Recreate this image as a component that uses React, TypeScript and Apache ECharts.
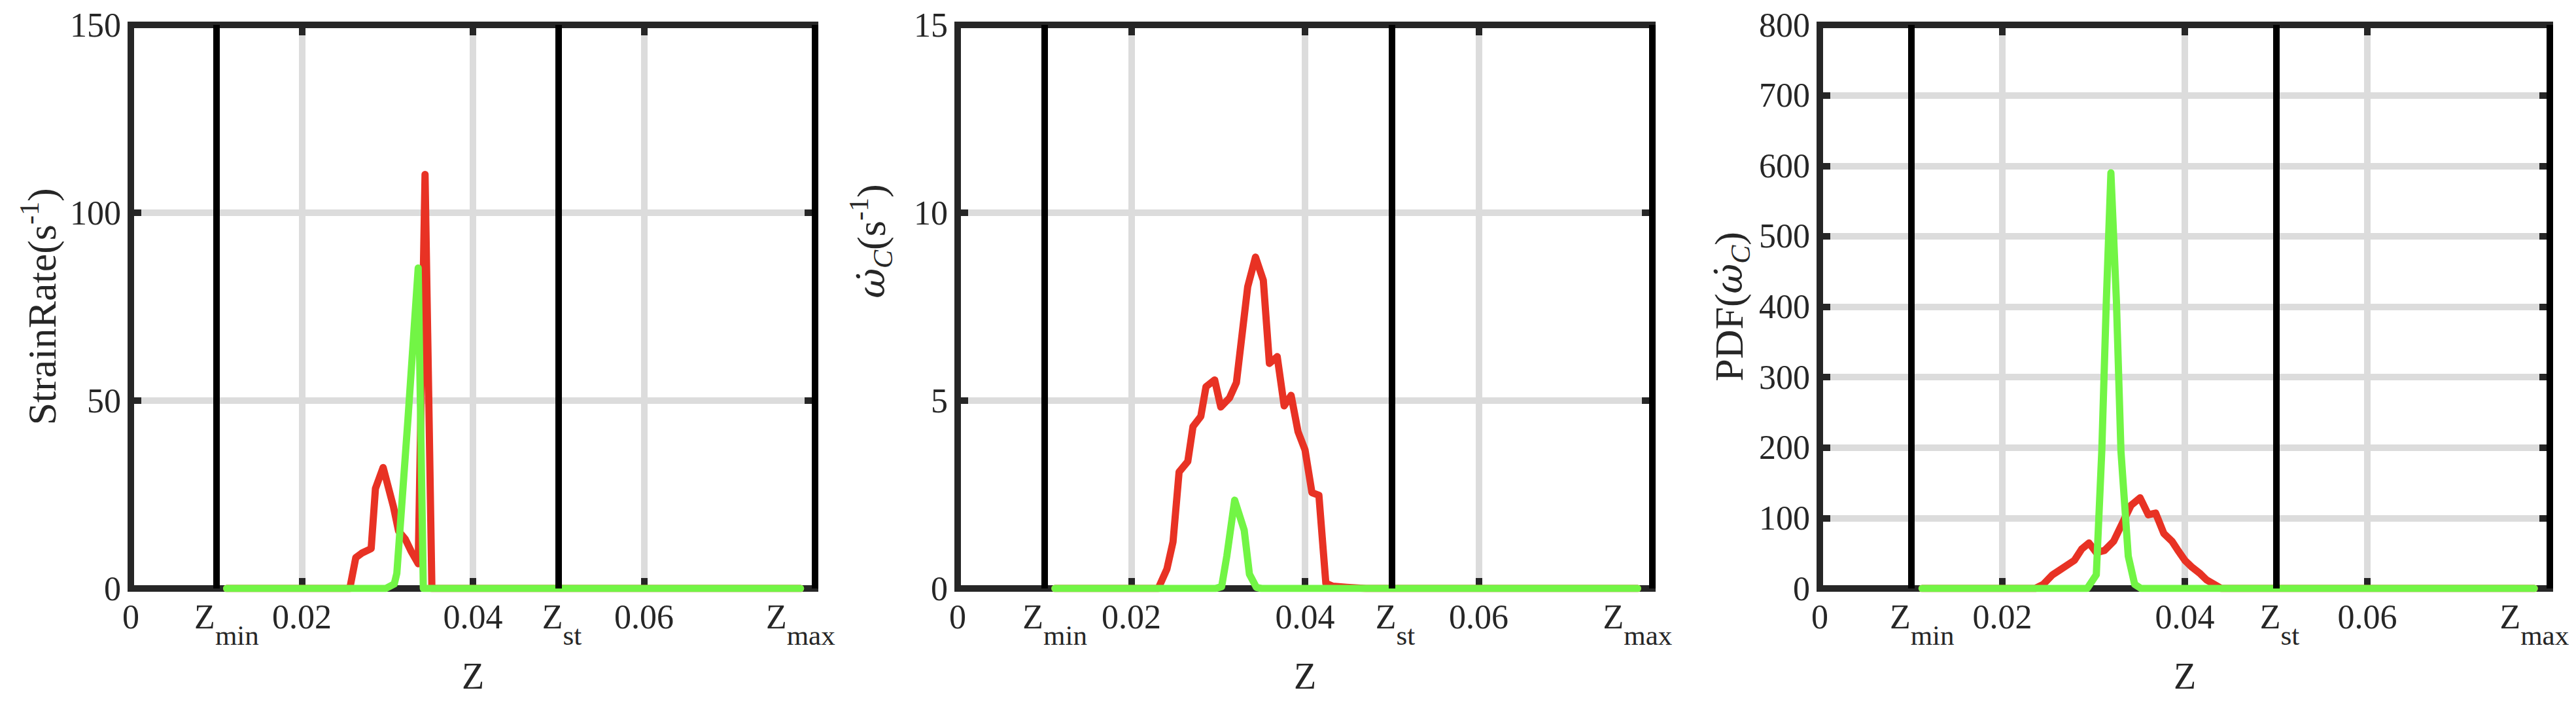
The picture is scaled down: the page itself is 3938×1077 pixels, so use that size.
import React, { useEffect, useRef } from 'react';
import * as echarts from 'echarts';

// ---- data -----------------------------------------------------------
const Z_MIN = 0.0112;
const Z_ST = 0.0504;
const Z_MAX = 0.0783;
const X_MAX = 0.08;
const X_INTERVAL = 0.02;
const X_LABEL_VALUES = [0, Z_MIN, 0.02, 0.04, Z_ST, 0.06, Z_MAX];

// Panel 1: strain rate
const Y1_MAX = 150;
const Y1_INTERVAL = 50;
const Z1_RED = [Z_MIN, 0.0256, 0.0263, 0.027, 0.0281, 0.0286, 0.0295, 0.0307, 0.0313, 0.0321, 0.0328, 0.0336, 0.0344, 0.0352, Z_MAX];
const V1_RED = [0, 0, 8.2, 9.4, 10.6, 26.6, 32.2, 21.8, 15.3, 13.1, 9.8, 6.6, 110.2, 0, 0];
const Z1_GREEN = [Z_MIN, 0.0298, 0.0308, 0.0311, 0.0324, 0.0336, 0.0342, Z_MAX];
const V1_GREEN = [0, 0, 1.2, 4, 45, 85.3, 0, 0];

// Panel 2: reaction rate
const Y2_MAX = 15;
const Y2_INTERVAL = 5;
const Z2_RED = [Z_MIN, 0.0231, 0.0241, 0.0248, 0.0255, 0.0265, 0.0271, 0.028, 0.0286, 0.0296, 0.0303, 0.0313, 0.0321, 0.0334, 0.0343, 0.0352, 0.0359, 0.0368, 0.0376, 0.0384, 0.0392, 0.04, 0.0408, 0.0416, 0.0424, 0.0432, 0.0448, 0.047, Z_MAX];
const V2_RED = [0, 0, 0.52, 1.24, 3.1, 3.38, 4.31, 4.58, 5.37, 5.55, 4.83, 5.07, 5.48, 8.03, 8.82, 8.2, 5.99, 6.17, 4.86, 5.14, 4.17, 3.69, 2.55, 2.48, 0.14, 0.06, 0.03, 0, 0];
const Z2_GREEN = [Z_MIN, 0.0297, 0.0304, 0.031, 0.0319, 0.033, 0.0336, 0.0344, 0.035, Z_MAX];
const V2_GREEN = [0, 0, 0.05, 0.87, 2.35, 1.55, 0.38, 0.03, 0, 0];

// Panel 3: PDF
const Y3_MAX = 800;
const Y3_INTERVAL = 100;
const Z3_RED = [Z_MIN, 0.0236, 0.0245, 0.0255, 0.0264, 0.0279, 0.0287, 0.0295, 0.0303, 0.0312, 0.0322, 0.0332, 0.0341, 0.0351, 0.036, 0.0368, 0.0377, 0.0386, 0.0392, 0.04, 0.0408, 0.0416, 0.0424, 0.0432, 0.044, Z_MAX];
const V3_RED = [0, 0, 6, 19.5, 27, 40, 56, 64.6, 51, 54, 67, 94, 118, 128.6, 104.6, 107, 78, 67, 55, 40, 30, 22, 12, 6, 0, 0];
const Z3_GREEN = [Z_MIN, 0.0293, 0.0303, 0.0309, 0.0314, 0.0319, 0.0325, 0.033, 0.0338, 0.0345, 0.0352, Z_MAX];
const V3_GREEN = [0, 0, 19.5, 195, 409, 590, 409, 195, 46, 6, 0, 0];

const Y_NAMES = [
  '{m|StrainRate(s}{sup|-1}{m|)}',
  '{w|\u03C9\u0307}{sub|C}{m|(s}{sup|-1}{m|)}',
  '{m|PDF(}{w|\u03C9\u0307}{sub|C}{m|)}',
];
const X_NAME = 'Z';

// ---- style ----------------------------------------------------------
const FONT = '"Liberation Serif", "Times New Roman", serif';
const GREEK = '"DejaVu Serif", "Liberation Serif", serif';
const TXT = '#262626';
const RED = '#e83224';
const GREEN = '#72f545';
const GRID_COLOR = '#dcdcdc';
const CURVE_WIDTH = 11;

const GRIDS = [
  { left: 200, width: 1046 },
  { left: 1464, width: 1062 },
  { left: 2782, width: 1116 },
];
const NAME_GAPS = [96, 92, 100];
// shift along the axis (local left padding of the rotated name)
const NAME_SHIFT = [0, 200, 0];
const TOP = 38;
const HEIGHT = 861;

const zip = (xs: number[], ys: number[]) => xs.map((x, i) => [x, ys[i]]);

function xLabel(v: number): string {
  if (Math.abs(v - Z_MIN) < 1e-7) return '{z|Z}{sub|min}';
  if (Math.abs(v - Z_ST) < 1e-7) return '{z|Z}{sub|st}';
  if (Math.abs(v - Z_MAX) < 1e-7) return '{z|Z}{sub|max}';
  if (v === 0) return '{n|0}';
  return '{n|' + v.toFixed(2) + '}';
}

const xRich = {
  n: { fontFamily: FONT, fontSize: 52, color: TXT, padding: [0, 0, 24, 0] },
  z: { fontFamily: FONT, fontSize: 52, color: TXT, padding: [0, 0, 24, 0] },
  sub: { fontFamily: FONT, fontSize: 43, color: TXT, padding: [33, 0, 0, 0] },
};

const nameRich = {
  m: { fontFamily: FONT, fontSize: 62, color: TXT },
  sup: { fontFamily: FONT, fontSize: 42, color: TXT, padding: [0, 0, 38, 0] },
  w: { fontFamily: GREEK, fontSize: 56, fontStyle: 'italic', color: TXT },
  sub: { fontFamily: FONT, fontSize: 42, fontStyle: 'italic', color: TXT, padding: [36, 0, 0, 0] },
};

function buildOption() {
  const panels = [
    { ymax: Y1_MAX, yint: Y1_INTERVAL, red: zip(Z1_RED, V1_RED), green: zip(Z1_GREEN, V1_GREEN) },
    { ymax: Y2_MAX, yint: Y2_INTERVAL, red: zip(Z2_RED, V2_RED), green: zip(Z2_GREEN, V2_GREEN) },
    { ymax: Y3_MAX, yint: Y3_INTERVAL, red: zip(Z3_RED, V3_RED), green: zip(Z3_GREEN, V3_GREEN) },
  ];
  const grid: any[] = [];
  const xAxis: any[] = [];
  const yAxis: any[] = [];
  const series: any[] = [];
  const tick = { show: true, inside: true, length: 16, lineStyle: { color: TXT, width: 10 } };
  const line = { show: true, onZero: false, lineStyle: { color: TXT, width: 10, cap: 'square' } };
  const split = { show: true, lineStyle: { color: GRID_COLOR, width: 10 } };
  panels.forEach((p, i) => {
    grid.push({
      left: GRIDS[i].left,
      width: GRIDS[i].width,
      top: TOP,
      height: HEIGHT,
      show: true,
      borderWidth: 0,
      backgroundColor: '#ffffff',
      containLabel: false,
      outerBoundsMode: 'none',
    });
    const xBase = { type: 'value', gridIndex: i, min: 0, max: X_MAX, interval: X_INTERVAL };
    const yBase = { type: 'value', gridIndex: i, min: 0, max: p.ymax, interval: p.yint };
    xAxis.push({
      ...xBase,
      position: 'bottom',
      z: 2,
      axisLine: line,
      axisTick: tick,
      splitLine: { show: false },
      axisLabel: {
        show: true,
        customValues: X_LABEL_VALUES,
        formatter: xLabel,
        margin: 17,
        fontFamily: FONT,
        fontSize: 52,
        color: TXT,
        rich: xRich,
      },
      name: X_NAME,
      nameLocation: 'middle',
      nameGap: 106,
      nameMoveOverlap: false,
      nameTextStyle: { fontFamily: FONT, fontSize: 56, color: TXT },
    });
    xAxis.push({
      ...xBase,
      position: 'top',
      z: 2,
      axisLine: line,
      axisTick: tick,
      splitLine: { show: false },
      axisLabel: { show: false },
    });
    xAxis.push({
      ...xBase,
      position: 'bottom',
      z: 0,
      axisLine: { show: false },
      axisTick: { show: false },
      axisLabel: { show: false },
      splitLine: split,
    });
    yAxis.push({
      ...yBase,
      position: 'left',
      z: 2,
      axisLine: line,
      axisTick: tick,
      splitLine: { show: false },
      axisLabel: { show: true, margin: 15, fontFamily: FONT, fontSize: 52, color: TXT },
      name: Y_NAMES[i],
      nameLocation: 'middle',
      nameGap: NAME_GAPS[i],
      nameMoveOverlap: false,
      nameTextStyle: {
        fontFamily: FONT,
        fontSize: 62,
        color: TXT,
        rich: nameRich,
        padding: [0, 0, 0, NAME_SHIFT[i]],
      },
    });
    yAxis.push({
      ...yBase,
      position: 'right',
      z: 2,
      axisLine: line,
      axisTick: tick,
      splitLine: { show: false },
      axisLabel: { show: false },
    });
    yAxis.push({
      ...yBase,
      position: 'left',
      z: 0,
      axisLine: { show: false },
      axisTick: { show: false },
      axisLabel: { show: false },
      splitLine: split,
    });
    series.push({
      type: 'line',
      xAxisIndex: 3 * i,
      yAxisIndex: 3 * i,
      data: p.red,
      symbol: 'none',
      silent: true,
      z: 3,
      lineStyle: { color: RED, width: CURVE_WIDTH, cap: 'round', join: 'round' },
      markLine: {
        silent: true,
        symbol: ['none', 'none'],
        label: { show: false },
        lineStyle: { color: '#000000', width: 10, type: 'solid' },
        emphasis: { disabled: true },
        data: [{ xAxis: Z_MIN }, { xAxis: Z_ST }, { xAxis: Z_MAX }],
      },
    });
    series.push({
      type: 'line',
      xAxisIndex: 3 * i,
      yAxisIndex: 3 * i,
      data: p.green,
      symbol: 'none',
      silent: true,
      z: 4,
      lineStyle: { color: GREEN, width: CURVE_WIDTH, cap: 'round', join: 'round' },
    });
  });
  return {
    animation: false,
    backgroundColor: '#ffffff',
    grid,
    xAxis,
    yAxis,
    series,
  };
}

export default function App() {
  const ref = useRef<HTMLDivElement>(null);
  useEffect(() => {
    document.body.style.margin = '0';
    document.body.style.overflow = 'hidden';
    if (!ref.current) return;
    const chart = echarts.init(ref.current, undefined, { renderer: 'svg' });
    chart.setOption(buildOption() as any);
    return () => chart.dispose();
  }, []);
  return <div ref={ref} style={{ width: 3938, height: 1077, background: '#ffffff' }} />;
}
